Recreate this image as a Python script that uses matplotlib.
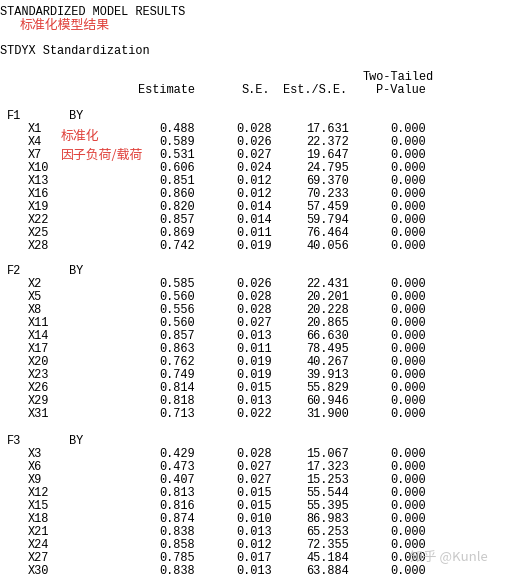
import matplotlib
matplotlib.use("Agg")
import matplotlib.pyplot as plt

W, H = 513, 582

factors = ["F1", "F2", "F3"]
items = [
    ["X1", "X4", "X7", "X10", "X13", "X16", "X19", "X22", "X25", "X28"],
    ["X2", "X5", "X8", "X11", "X14", "X17", "X20", "X23", "X26", "X29", "X31"],
    ["X3", "X6", "X9", "X12", "X15", "X18", "X21", "X24", "X27", "X30"],
]
estimate = [
    [0.488, 0.589, 0.531, 0.606, 0.851, 0.860, 0.820, 0.857, 0.869, 0.742],
    [0.585, 0.560, 0.556, 0.560, 0.857, 0.863, 0.762, 0.749, 0.814, 0.818, 0.713],
    [0.429, 0.473, 0.407, 0.813, 0.816, 0.874, 0.838, 0.858, 0.785, 0.838],
]
se = [
    [0.028, 0.026, 0.027, 0.024, 0.012, 0.012, 0.014, 0.014, 0.011, 0.019],
    [0.026, 0.028, 0.028, 0.027, 0.013, 0.011, 0.019, 0.019, 0.015, 0.013, 0.022],
    [0.028, 0.027, 0.027, 0.015, 0.015, 0.010, 0.013, 0.012, 0.017, 0.013],
]
est_se = [
    [17.631, 22.372, 19.647, 24.795, 69.370, 70.233, 57.459, 59.794, 76.464, 40.056],
    [22.431, 20.201, 20.228, 20.865, 66.630, 78.495, 40.267, 39.913, 55.829, 60.946, 31.900],
    [15.067, 17.323, 15.253, 55.544, 55.395, 86.983, 65.253, 72.355, 45.184, 63.884],
]
p_value = [[0.0] * len(g) for g in items]

fig = plt.figure(figsize=(W / 100, H / 100), dpi=100)
mono = dict(family=["Liberation Mono", "DejaVu Sans Mono"], fontsize=8.6, color="black", va="center")
red = dict(family=["Noto Sans CJK SC", "DejaVu Sans"], fontsize=9.3, color="#e0403a", va="center")


def put(x, y, s, ha="left", **kw):
    fig.text(x / W, 1 - y / H, s, ha=ha, **kw)


put(0, 12, "STANDARDIZED MODEL RESULTS", **mono)
put(20, 25, "标准化模型结果", **red)
put(0, 51, "STDYX Standardization", **mono)
put(434, 77, "Two-Tailed", ha="right", **mono)
put(195, 90, "Estimate", ha="right", **mono)
put(270, 90, "S.E.", ha="right", **mono)
put(347, 90, "Est./S.E.", ha="right", **mono)
put(426, 90, "P-Value", ha="right", **mono)

starts = [116, 271, 441]
step = 13
for f, y0, its, est, s, es, p in zip(factors, starts, items, estimate, se, est_se, p_value):
    put(7, y0, f, **mono)
    put(69, y0, "BY", **mono)
    for i, name in enumerate(its):
        y = y0 + step * (i + 1)
        put(28, y, name, **mono)
        put(195, y, f"{est[i]:.3f}", ha="right", **mono)
        put(272, y, f"{s[i]:.3f}", ha="right", **mono)
        put(349, y, f"{es[i]:.3f}", ha="right", **mono)
        put(426, y, f"{p[i]:.3f}", ha="right", **mono)

put(61, 136, "标准化", **red)
put(61, 155, "因子负荷/载荷", **red)
put(410, 557, "知乎 @Kunle", family=["Noto Sans CJK SC", "DejaVu Sans"],
    fontsize=9.5, color="#bbbbbb", va="center", alpha=0.8)

fig.savefig("out.png", dpi=100)
